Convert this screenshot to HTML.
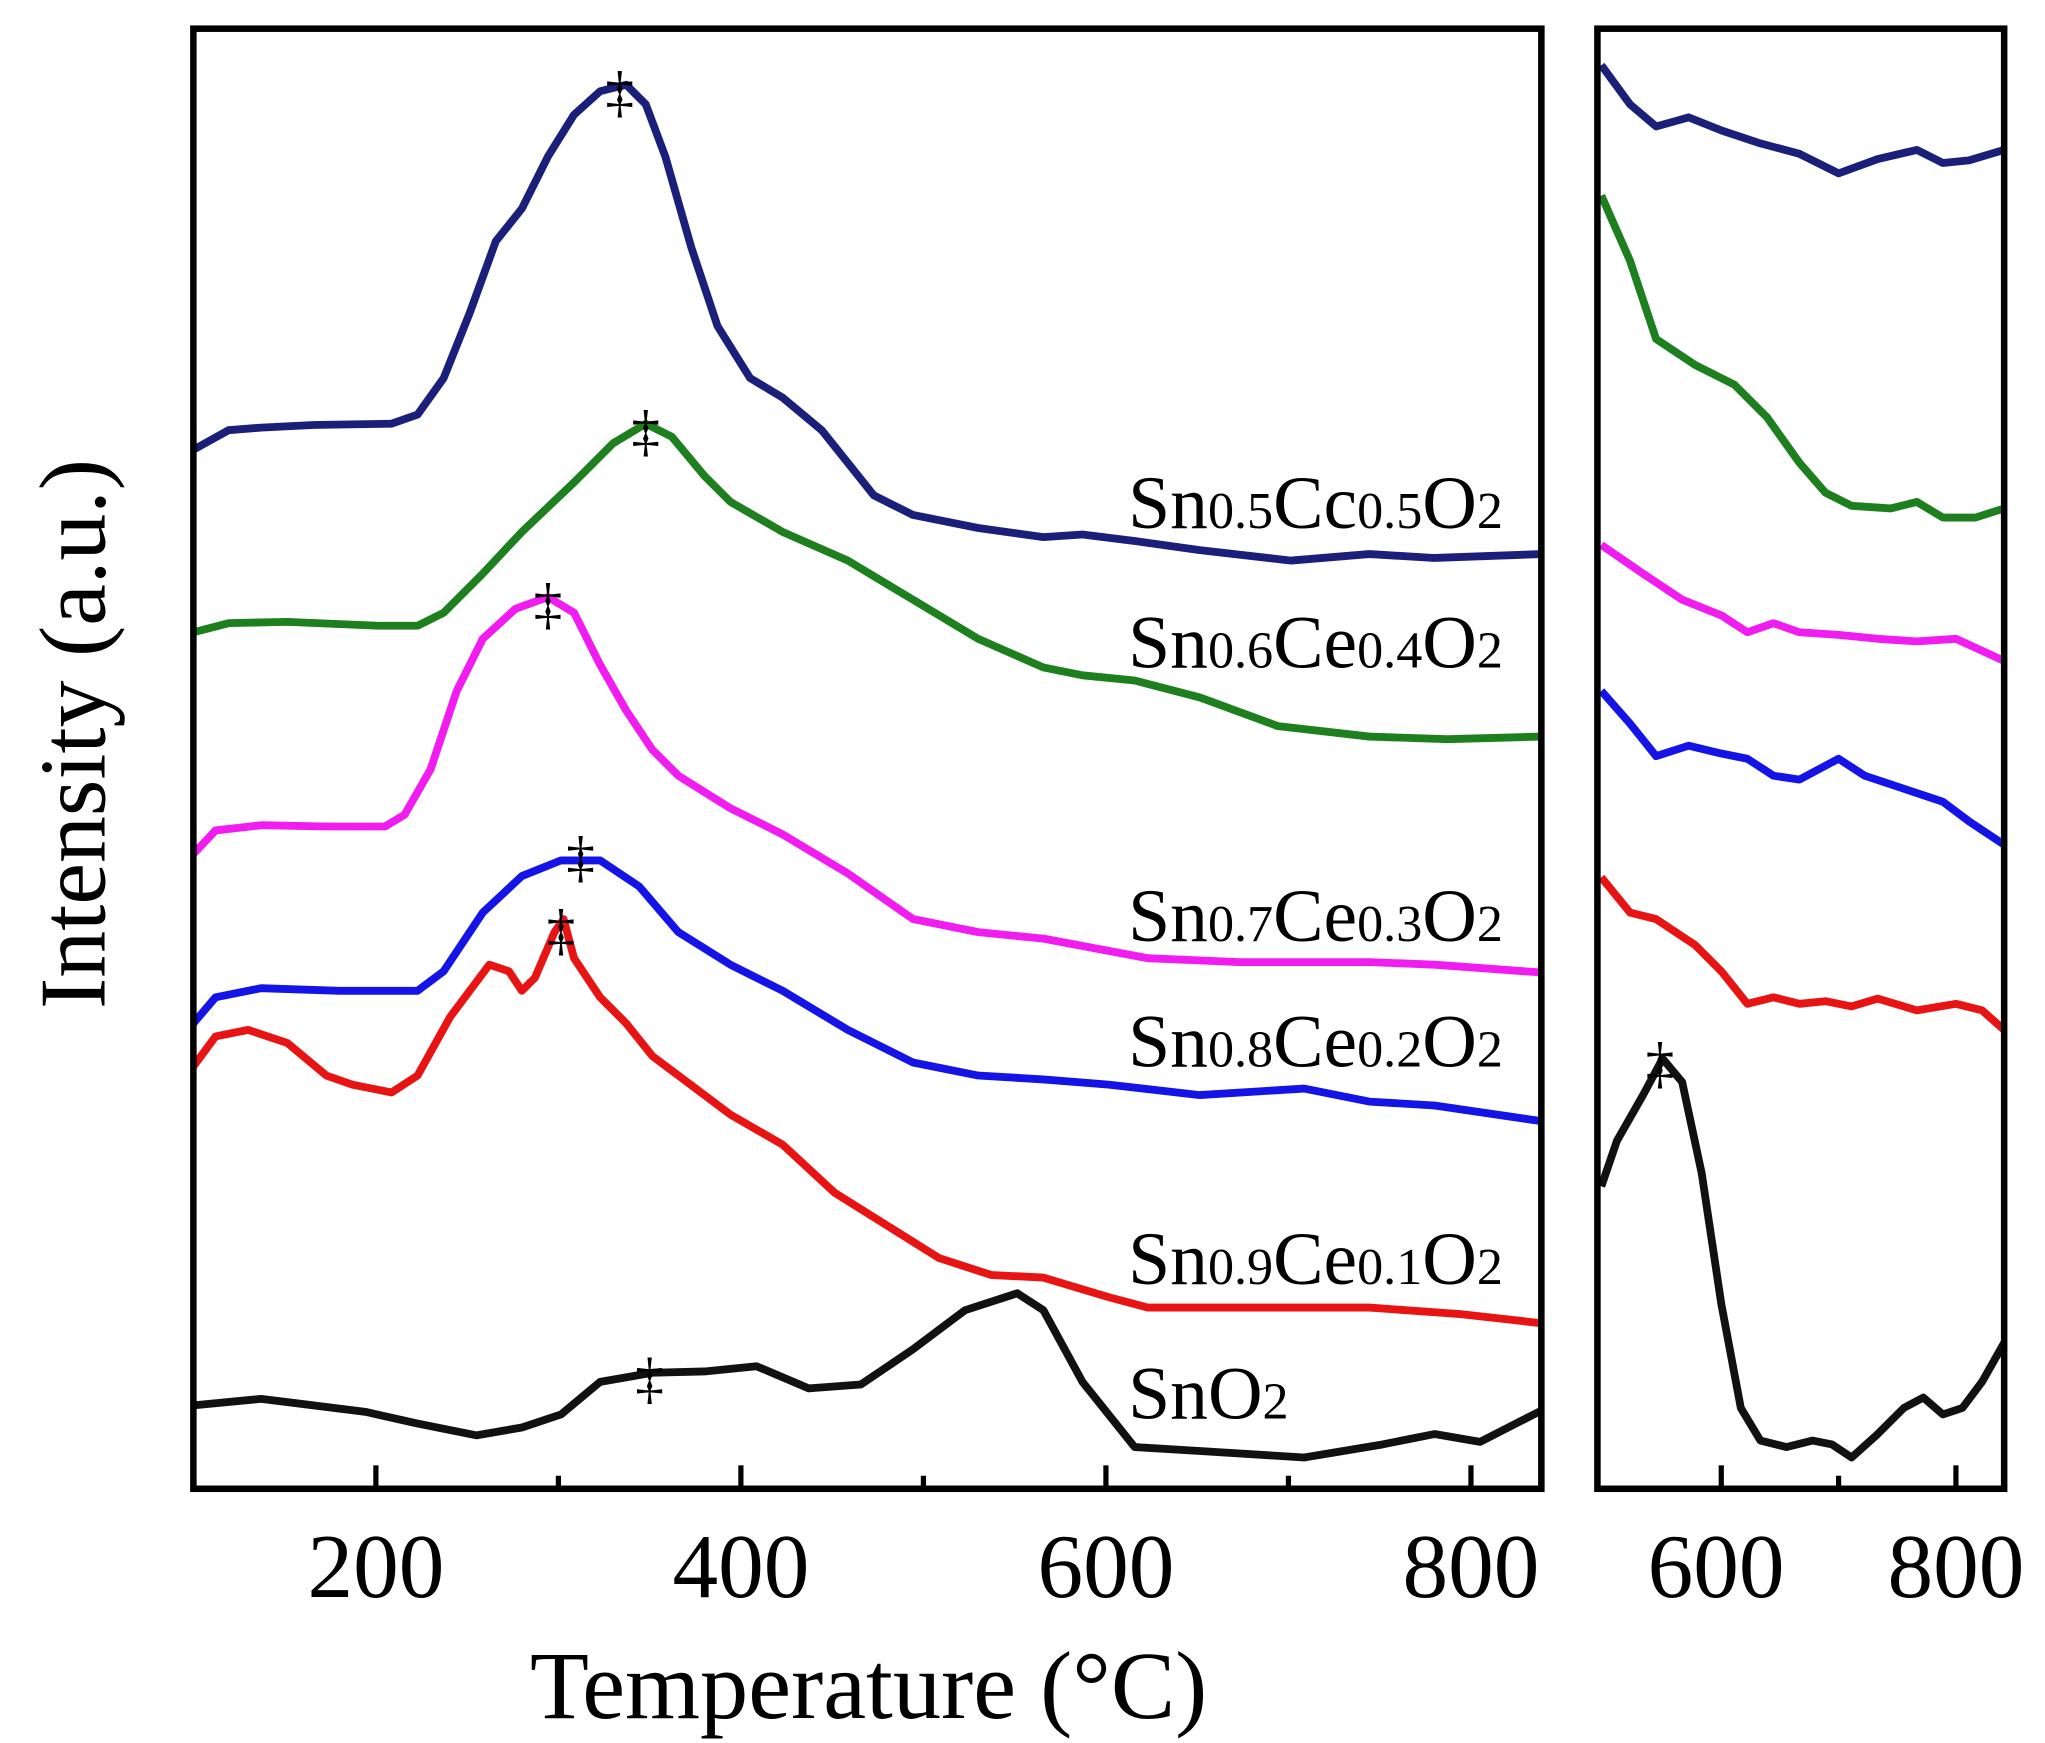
<!DOCTYPE html>
<html><head><style>html,body{margin:0;padding:0;background:#fff}</style></head><body>
<svg width="2045" height="1743" viewBox="0 0 1568 1337" xmlns="http://www.w3.org/2000/svg" style="display:block">
<rect width="1568" height="1337" fill="#fff"/>
<g fill="none" stroke-width="6" stroke-linejoin="round">
<polyline stroke="#1a1f7a" points="148,345 175,330 200,328 240,326 300,325 320,318 340,290 360,240 380,185 400,160 420,120 440,88 460,70 480,65 495,80 510,120 530,190 550,250 575,290 600,305 630,330 670,380 700,395 750,405 800,412 830,410 870,415 920,422 990,430 1050,425 1100,428 1182,425"/>
<polyline stroke="#1e7f1e" points="148,485 175,478 220,477 290,480 320,480 340,470 370,440 400,408 440,370 470,340 495,325 515,335 540,365 560,385 600,408 650,430 700,460 750,490 800,512 830,518 870,522 920,535 980,557 1050,565 1110,567 1182,565"/>
<polyline stroke="#f01cf0" points="148,655 165,637 200,633 250,634 295,634 310,625 330,590 350,530 370,490 395,467 420,458 440,470 460,510 480,545 500,575 520,595 560,620 600,640 650,670 700,705 750,715 800,720 880,735 950,738 1050,738 1100,740 1182,746"/>
<polyline stroke="#1414e6" points="148,785 165,765 200,758 260,760 320,760 340,745 370,700 400,672 430,660 460,660 490,680 520,715 560,740 600,760 650,790 700,815 750,825 800,828 850,832 920,840 1000,835 1050,845 1100,848 1182,860"/>
<polyline stroke="#e81414" points="148,818 165,795 190,790 220,800 250,825 270,832 300,838 320,825 345,780 375,740 390,745 400,760 410,750 425,715 432,705 440,735 460,765 480,785 500,810 520,825 560,855 600,878 640,915 680,940 720,965 760,978 800,980 850,995 880,1003 950,1003 1050,1003 1120,1008 1182,1015"/>
<polyline stroke="#111" points="148,1078 200,1073 280,1083 320,1092 365,1101 400,1095 430,1085 460,1060 500,1053 540,1052 580,1048 620,1065 660,1062 700,1035 740,1005 780,992 800,1005 830,1060 870,1110 920,1113 1000,1118 1060,1108 1100,1100 1135,1106 1182,1082"/>
<polyline stroke="#1a1f7a" points="1228,50 1250,80 1270,97 1295,90 1320,100 1350,110 1380,118 1410,133 1440,122 1470,115 1490,125 1510,123 1537,115"/>
<polyline stroke="#1e7f1e" points="1228,150 1250,200 1270,260 1300,280 1330,295 1355,320 1380,355 1400,378 1420,388 1450,390 1470,385 1490,397 1515,397 1537,390"/>
<polyline stroke="#f01cf0" points="1228,418 1260,440 1290,460 1320,472 1340,485 1360,478 1380,485 1410,487 1440,490 1470,492 1500,490 1537,507"/>
<polyline stroke="#1414e6" points="1228,530 1250,555 1270,580 1295,572 1320,578 1340,582 1360,595 1380,598 1410,582 1430,595 1460,605 1490,615 1510,630 1537,648"/>
<polyline stroke="#e81414" points="1228,673 1250,700 1270,705 1300,725 1320,745 1340,770 1360,765 1380,770 1400,768 1420,772 1440,766 1470,775 1500,770 1520,775 1537,790"/>
<polyline stroke="#111" points="1228,910 1240,875 1260,840 1275,812 1290,830 1305,900 1320,1000 1335,1080 1350,1105 1370,1110 1390,1105 1405,1108 1420,1118 1440,1100 1460,1080 1475,1072 1490,1085 1505,1080 1520,1060 1537,1030"/>
</g>
<g fill="none" stroke="#000" stroke-width="5">
<rect x="148" y="22" width="1034" height="1120"/>
<rect x="1225" y="22" width="312" height="1120"/>
</g>
<g stroke="#000" stroke-width="4">
<line x1="288" y1="1142" x2="288" y2="1124"/><line x1="428" y1="1142" x2="428" y2="1132"/>
<line x1="568" y1="1142" x2="568" y2="1124"/><line x1="708" y1="1142" x2="708" y2="1132"/>
<line x1="848" y1="1142" x2="848" y2="1124"/><line x1="988" y1="1142" x2="988" y2="1132"/>
<line x1="1128" y1="1142" x2="1128" y2="1124"/>
<line x1="1320" y1="1142" x2="1320" y2="1124"/><line x1="1410" y1="1142" x2="1410" y2="1132"/><line x1="1500" y1="1142" x2="1500" y2="1124"/>
</g>
<g font-family="Liberation Serif, serif" fill="#000">
<g font-size="70" text-anchor="middle">
<text x="288" y="1225">200</text><text x="568" y="1225">400</text><text x="848" y="1225">600</text><text x="1128" y="1225">800</text>
<text x="1316" y="1225">600</text><text x="1500" y="1225">800</text>
</g>
<text x="666" y="1318" font-size="74" text-anchor="middle">Temperature (°C)</text>
<text transform="translate(80,563) rotate(-90)" font-size="72" text-anchor="middle">Intensity (a.u.)</text>
<g font-size="58">
<text x="865" y="405">Sn<tspan font-size="40">0.5</tspan>Cc<tspan font-size="40">0.5</tspan>O<tspan font-size="40">2</tspan></text>
<text x="865" y="512">Sn<tspan font-size="40">0.6</tspan>Ce<tspan font-size="40">0.4</tspan>O<tspan font-size="40">2</tspan></text>
<text x="865" y="722">Sn<tspan font-size="40">0.7</tspan>Ce<tspan font-size="40">0.3</tspan>O<tspan font-size="40">2</tspan></text>
<text x="865" y="818">Sn<tspan font-size="40">0.8</tspan>Ce<tspan font-size="40">0.2</tspan>O<tspan font-size="40">2</tspan></text>
<text x="865" y="985">Sn<tspan font-size="40">0.9</tspan>Ce<tspan font-size="40">0.1</tspan>O<tspan font-size="40">2</tspan></text>
<text x="865" y="1088">SnO<tspan font-size="40">2</tspan></text>
</g>
<g font-size="44" text-anchor="middle">
<text x="475" y="85">‡</text><text x="495" y="345">‡</text><text x="420" y="478">‡</text>
<text x="445" y="672">‡</text><text x="430" y="728">‡</text><text x="498" y="1072">‡</text><text x="1273" y="830">‡</text>
</g>
</g>
</svg>
</body></html>
